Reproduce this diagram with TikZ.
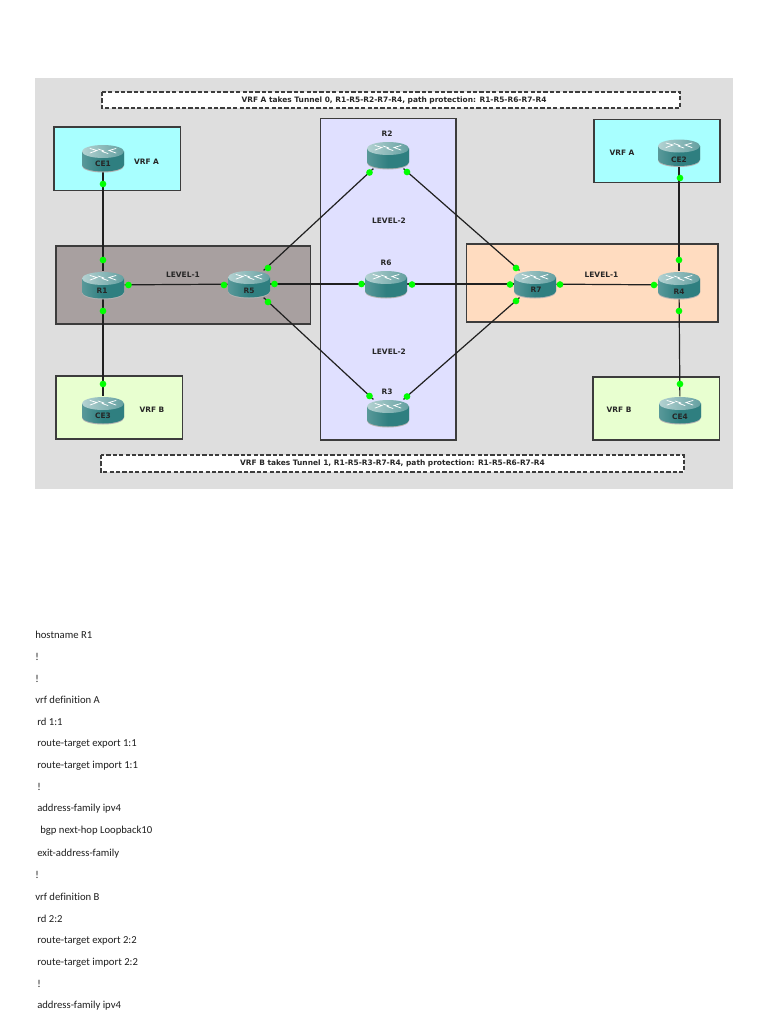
\documentclass[tikz,border=0pt]{standalone}
\usepackage{fontspec}
\setmainfont{Carlito}[Ligatures=NoCommon]
\newfontfamily\netfont{DejaVu Sans}
\definecolor{bgray}{HTML}{DEDEDE}
\definecolor{vrfa}{HTML}{A8FFFF}
\definecolor{vrfb}{HTML}{E8FFD0}
\definecolor{lvlgray}{HTML}{A8A0A0}
\definecolor{lvlblue}{HTML}{E0E0FF}
\definecolor{lvlorange}{HTML}{FFDCC0}
\definecolor{rbody}{HTML}{2F7F80}
\definecolor{rtop}{HTML}{5E9EA0}
\definecolor{rlight}{HTML}{B4D2D2}
\definecolor{linkdark}{HTML}{202020}
\definecolor{panelline}{HTML}{3C3C3C}
\tikzset{
  panel/.style={draw=panelline,line width=0.85pt},
  banner/.style={draw=panelline,fill=white,line width=0.85pt,dash pattern=on 3.2pt off 1.6pt},
  router/.style={rectangle,minimum width=31.5pt,minimum height=20pt,inner sep=0pt},
  link/.style={draw=linkdark,line width=0.9pt},
  dot/.style={circle,fill=green,draw=none,minimum size=5pt,inner sep=0pt},
  lab/.style={font=\netfont\bfseries\fontsize{5.58}{6}\selectfont,text=black!85,inner sep=0pt},
  rlab/.style={lab},
  cfg/.style={anchor=west,font=\fontsize{8}{9}\selectfont,text=black!88,inner sep=0pt},
  arrowmark/.style={draw=white,line width=0.55pt,line cap=round}
}
\newcommand{\routericon}[1]{%
  \begin{scope}[shift={(#1)}]
    \fill[black!30] (-21,-6.5) -- (-21,8) arc[start angle=180,end angle=0,x radius=21,y radius=6.5] -- (21,-6.5) -- cycle;
    \shade[left color=rbody!80!white,right color=rbody,middle color=rbody] (-21,-6.5) -- (-21,7) arc[start angle=180,end angle=0,x radius=21,y radius=6.5] -- (21,-6.5) -- cycle;
    \shade[left color=rlight,right color=rbody!75!white] (0,-6.5) ellipse[x radius=21,y radius=6.5];
    \draw[arrowmark] (-13,-9.5) -- (-6,-7.5) -- (-13,-5) (13,-9.5) -- (6,-7.5) -- (13,-5)
                     (-5,-9) -- (1,-7) (5,-4.5) -- (-1,-6.5);
  \end{scope}}
\begin{document}
\begin{tikzpicture}[x=0.75pt,y=-0.75pt]
\useasboundingbox (0,0) rectangle (768,1024);
\fill[white] (0,0) rectangle (768,1024);
\fill[bgray] (34.5,78) rectangle (733,489);
% panels
\draw[panel,fill=vrfa] (54,127) rectangle (180.5,190.5);
\draw[panel,fill=vrfa] (594,119.5) rectangle (720,182.5);
\draw[panel,fill=lvlgray] (56,246) rectangle (310.5,324);
\draw[panel,fill=lvlorange] (466.5,244) rectangle (718,322);
\draw[panel,fill=lvlblue] (320.5,118.5) rectangle (456,440);
\draw[panel,fill=vrfb] (56,376) rectangle (182.5,439);
\draw[panel,fill=vrfb] (593,377) rectangle (719.5,440);
\draw[banner] (102,92) rectangle (680,108);
\draw[banner] (101,455) rectangle (684,472);
\node[lab] (topnote) at (394,100.5) {VRF A takes Tunnel 0, R1-R5-R2-R7-R4, path protection: R1-R5-R6-R7-R4};
\node[lab] (botnote) at (392.5,463.5) {VRF B takes Tunnel 1, R1-R5-R3-R7-R4, path protection: R1-R5-R6-R7-R4};
% routers (positions)
\node[router] (CE1) at (103,158) {};
\node[router] (CE2) at (679,152.5) {};
\node[router] (CE3) at (103,410) {};
\node[router] (CE4) at (680,410) {};
\node[router] (R1) at (103,285) {};
\node[router] (R2) at (388,155) {};
\node[router] (R3) at (388,413) {};
\node[router] (R4) at (679,285) {};
\node[router] (R5) at (249,284) {};
\node[router] (R6) at (386,284) {};
\node[router] (R7) at (535,284) {};
% connectors
\draw[link] (CE1) -- (R1);
\draw[link] (R1) -- (CE3);
\draw[link] (R1) -- (R5);
\draw[link] (R5) -- (R6);
\draw[link] (R6) -- (R7);
\draw[link] (R7) -- (R4);
\draw[link] (CE2) -- (R4);
\draw[link] (R4) -- (CE4);
\draw[link] (R5) -- (R2);
\draw[link] (R5) -- (R3);
\draw[link] (R2) -- (R7);
\draw[link] (R3) -- (R7);
% router icons
\foreach \r in {CE1,CE2,CE3,CE4,R1,R2,R3,R4,R5,R6,R7} {\routericon{\r}}
% router labels
\node[rlab] (lCE1) at (103,163.5) {CE1};
\node[rlab] (lCE2) at (679,160) {CE2};
\node[rlab] (lCE3) at (103,416) {CE3};
\node[rlab] (lCE4) at (680,417) {CE4};
\node[rlab] (lR1) at (102,291) {R1};
\node[rlab] (lR2) at (387,133.5) {R2};
\node[rlab] (lR3) at (387,392) {R3};
\node[rlab] (lR4) at (679,291.5) {R4};
\node[rlab] (lR5) at (249,290.5) {R5};
\node[rlab] (lR6) at (386,263) {R6};
\node[rlab] (lR7) at (536,290) {R7};
% panel labels
\node[lab] (vrf1) at (146.5,161.5) {VRF A};
\node[lab] (vrf2) at (622,152.5) {VRF A};
\node[lab] (vrf3) at (152,410) {VRF B};
\node[lab] (vrf4) at (619,410) {VRF B};
\node[lab] (lvl1) at (183,274.5) {LEVEL-1};
\node[lab] (lvl2) at (601.5,274.5) {LEVEL-1};
\node[lab] (lvl3) at (389,220.5) {LEVEL-2};
\node[lab] (lvl4) at (389,352) {LEVEL-2};
% interface dots
\node[dot] (d1) at (103,184) {};
\node[dot] (d2) at (103,260) {};
\node[dot] (d3) at (103,311) {};
\node[dot] (d4) at (103,384) {};
\node[dot] (d5) at (128.5,285) {};
\node[dot] (d6) at (224,285) {};
\node[dot] (d7) at (274.5,284) {};
\node[dot] (d8) at (361.5,284) {};
\node[dot] (d9) at (412,284.5) {};
\node[dot] (d10) at (510,284.5) {};
\node[dot] (d11) at (560,284.5) {};
\node[dot] (d12) at (654,285) {};
\node[dot] (d13) at (680,178) {};
\node[dot] (d14) at (679,260) {};
\node[dot] (d15) at (679,311) {};
\node[dot] (d16) at (680,384) {};
\node[dot] (d17) at (268,268) {};
\node[dot] (d18) at (369.5,172.5) {};
\node[dot] (d19) at (268,302) {};
\node[dot] (d20) at (369.5,396) {};
\node[dot] (d21) at (407,172) {};
\node[dot] (d22) at (516,268) {};
\node[dot] (d23) at (407,396.5) {};
\node[dot] (d24) at (516,301) {};
% configuration text
\node[cfg] (t1) at (35,635) {hostname R1};
\node[cfg] (t2) at (35,657) {!};
\node[cfg] (t3) at (35,679) {!};
\node[cfg] (t4) at (35,700) {vrf definition A};
\node[cfg] (t5) at (37,722) {rd 1:1};
\node[cfg] (t6) at (37,743.5) {route-target export 1:1};
\node[cfg] (t7) at (37,765.5) {route-target import 1:1};
\node[cfg] (t8) at (37,787) {!};
\node[cfg] (t9) at (37,809) {address-family ipv4};
\node[cfg] (t10) at (40,831) {bgp next-hop Loopback10};
\node[cfg] (t11) at (37,853.5) {exit-address-family};
\node[cfg] (t12) at (35,875) {!};
\node[cfg] (t13) at (35,897) {vrf definition B};
\node[cfg] (t14) at (37,919) {rd 2:2};
\node[cfg] (t15) at (37,940.5) {route-target export 2:2};
\node[cfg] (t16) at (37,962.5) {route-target import 2:2};
\node[cfg] (t17) at (37,984) {!};
\node[cfg] (t18) at (37,1006) {address-family ipv4};
\end{tikzpicture}
\end{document}
